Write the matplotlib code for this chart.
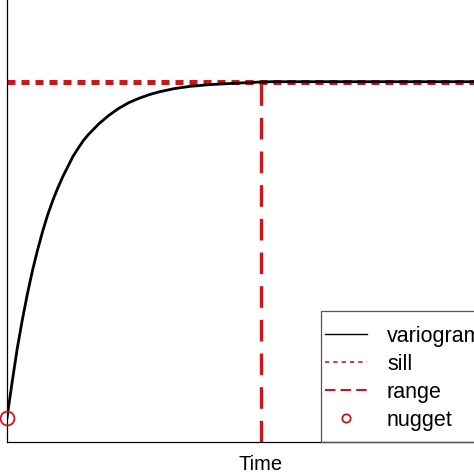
import matplotlib

matplotlib.use("Agg")

import matplotlib.pyplot as plt
from matplotlib.patches import Rectangle

plt.rcParams["font.family"] = ["Liberation Sans", "DejaVu Sans"]

# --- data ---
curve_x = [0, 1, 2, 3, 4, 5, 6, 7, 8, 9, 10, 11, 12, 13, 14, 15, 16, 18, 20,
           22, 24, 26, 28, 30, 33, 36, 40, 44, 48, 52, 60, 80, 100]
curve_y = [0.067, 0.165, 0.258, 0.338, 0.410, 0.475, 0.532, 0.584, 0.630, 0.670,
           0.705, 0.737, 0.765, 0.793, 0.815, 0.836, 0.853, 0.882, 0.906,
           0.926, 0.942, 0.954, 0.964, 0.972, 0.981, 0.987, 0.992, 0.995, 0.998,
           1.0, 1.0, 1.0, 1.0]
nugget = 0.067
sill = 1.0
range_x = 50.0
legend_labels = ["variogram", "sill", "range", "nugget"]

RED = "#d0141c"
W = H = 474.0

fig = plt.figure(figsize=(4.74, 4.74), dpi=100)
ax = fig.add_axes([7 / W, (H - 442) / H, 508 / W, 447 / H])
ax.set_xlim(0, 100)
ax.set_ylim(0, 447 / 360.3)

ax.axhline(sill, color=RED, lw=3.6, dashes=(1.6, 1.2), dash_capstyle="butt", zorder=2)
ax.plot(curve_x, curve_y, color="black", lw=2.0, zorder=3, solid_joinstyle="round")
ax.axvline(range_x, ymax=sill / ax.get_ylim()[1], color=RED, lw=2.4,
           dashes=(6.5, 3.6), zorder=2)
ax.plot([0], [nugget], marker="o", ms=10, mfc="none", mec=RED, mew=1.3,
        linestyle="none", clip_on=False, zorder=4)

for side in ("top", "right"):
    ax.spines[side].set_visible(False)
for side in ("left", "bottom"):
    ax.spines[side].set_linewidth(0.9)
ax.set_xticks([])
ax.set_yticks([])
ax.set_xlabel("Time", fontsize=14.5, labelpad=9)

# legend handles (thinner, as in the reference key)
h_var, = ax.plot([], [], color="black", lw=1.0)
h_sill, = ax.plot([], [], color=RED, lw=1.2, dashes=(2.5, 2.5))
h_range, = ax.plot([], [], color=RED, lw=1.5, dashes=(5, 2.5))
h_nug, = ax.plot([], [], marker="o", ms=6, mfc="none", mec=RED, mew=1.3, linestyle="none")

fig.add_artist(Rectangle((321 / W, (H - 442) / H), 200 / W, 131 / H,
                         transform=fig.transFigure, fill=False, edgecolor="#555555", lw=0.9))
ax.legend([h_var, h_sill, h_range, h_nug], legend_labels, loc="upper left",
          bbox_to_anchor=(325 / W, (H - 326) / H), bbox_transform=fig.transFigure,
          frameon=False, borderpad=0, borderaxespad=0, fontsize=15.5,
          handlelength=1.95, handletextpad=0.93, labelspacing=0.32)

fig.savefig("out.png", dpi=100)
